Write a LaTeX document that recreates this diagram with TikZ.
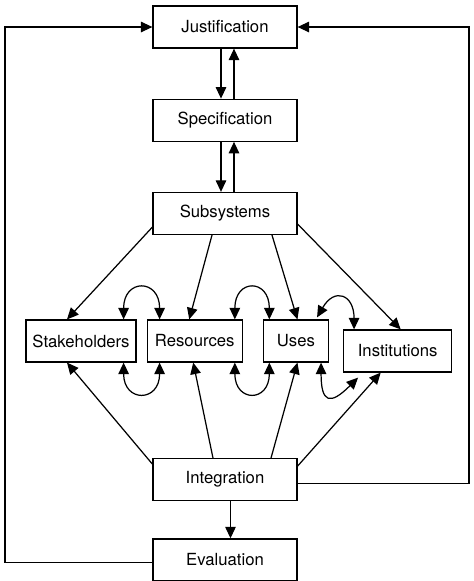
\documentclass[tikz,border=0pt]{standalone}
\usepackage{fontspec}
\setmainfont{TeX Gyre Heros}
\usetikzlibrary{positioning, calc, arrows.meta}

\begin{document}
\begin{tikzpicture}[>={Triangle[length=2.3mm,width=2.1mm]}, line width=0.7pt, font=\fontsize{9.5}{11}\selectfont]
    % Styles
    \tikzstyle{stage} = [rectangle, draw, minimum width=2.88cm, minimum height=0.84cm]
    \tikzstyle{part} = [rectangle, draw, minimum height=0.84cm]
    \tikzstyle{bendtop} = [<->, out=90, in=90, distance=0.82cm]
    \tikzstyle{bendlow} = [<->, out=-90, in=-90, distance=0.8cm]

    \useasboundingbox (0,0) rectangle (9.48,-11.62);

    % Nodes
    \node [stage] at (4.5,-0.54) (just) {Justification};
    \node [stage, below=1cm of just] (spec) {Specification};
    \node [stage, below=1cm of spec] (subs) {Subsystems};
    \node [part, minimum width=2.2cm] at (1.62,-6.82) (stake) {Stakeholders};
    \node [part, minimum width=1.9cm, right=0.2cm of stake] (res) {Resources};
    \node [part, minimum width=1.3cm, right=0.4cm of res] (uses) {Uses};
    \node [part, minimum width=2.16cm, right=0.28cm of uses, yshift=-0.2cm] (inst) {Institutions};
    \node [stage, below=4.46cm of subs] (integ) {Integration};
    \node [stage, below=0.74cm of integ] (eval) {Evaluation};
    \coordinate (leftrail) at (0.1,0);
    \coordinate (rightrail) at (9.38,0);
    \coordinate (evalout) at ($(eval.west)+(0,-0.05)$);
    \coordinate (integout) at ($(integ.east)+(0,-0.08)$);

    % Connections
    % Column
    \draw[->] ($(just.south)+(-0.08,0)$) -- ($(spec.north)+(-0.08,0)$);
    \draw[->] ($(spec.north)+(0.18,0)$) -- ($(just.south)+(0.18,0)$);
    \draw[->] ($(spec.south)+(-0.08,0)$) -- ($(subs.north)+(-0.08,0)$);
    \draw[->] ($(subs.north)+(0.18,0)$) -- ($(spec.south)+(0.18,0)$);
    \draw[->] ($(integ.south)+(0.11,0)$) -- ($(eval.north)+(0.11,0)$);

    % Subsystems to parts
    \draw[->] ($(subs.south west)+(0,0.16)$) -- ($(stake.north)+(-0.28,0)$);
    \draw[->] ($(subs.south)+(-0.26,0)$) -- ($(res.north)+(-0.11,0)$);
    \draw[->] ($(subs.south)+(0.94,0)$) -- ($(uses.north)+(0.03,0)$);
    \draw[->] ($(subs.south east)+(0,0.22)$) -- ($(inst.north)+(0.06,0)$);

    % Integration to parts
    \draw[->] ($(integ.north west)+(0,-0.12)$) -- ($(stake.south)+(-0.28,0)$);
    \draw[->] ($(integ.north)+(-0.24,0)$) -- ($(res.south)+(-0.03,0)$);
    \draw[->] ($(integ.north)+(0.92,0)$) -- ($(uses.south)+(0.03,0)$);
    \draw[->] ($(integ.north east)+(0,-0.16)$) -- ($(inst.south)+(-0.34,0)$);

    % Between parts
    \draw[bendtop] ($(stake.north east)+(-0.26,0)$) to ($(res.north west)+(0.26,0)$);
    \draw[bendlow] ($(stake.south east)+(-0.26,0)$) to ($(res.south west)+(0.26,0)$);
    \draw[bendtop] ($(res.north east)+(-0.16,0)$) to ($(uses.north west)+(0.13,0)$);
    \draw[bendlow] ($(res.south east)+(-0.16,0)$) to ($(uses.south west)+(0.13,0)$);
    \draw[<->] ($(uses.north east)+(-0.24,0.04)$) to[out=60, in=90, distance=0.7cm] ($(inst.north west)+(0.22,0)$);
    \draw[<->] ($(uses.south east)+(-0.16,0)$) to[out=-90, in=225, distance=0.8cm] ($(inst.south west)+(0.3,-0.1)$);

    % Feedback
    \draw[->] (evalout) -- (evalout -| leftrail) |- (just.west);
    \draw[->] (integout) -- (integout -| rightrail) |- (just.east);

\end{tikzpicture}
\end{document}
